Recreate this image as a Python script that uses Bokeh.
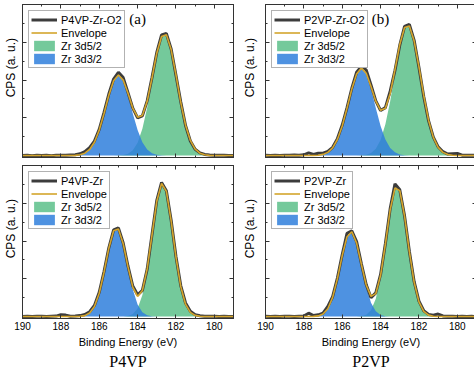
from bokeh.plotting import figure
from bokeh.models import (Range1d, LinearAxis, FixedTicker, Legend, LegendItem,
                          Label, Title, ColumnDataSource, CustomLabelingPolicy)
from bokeh.layouts import column, row
from bokeh.embed import file_html
from bokeh.resources import INLINE

# ---------------- data ----------------
energy = [190.0, 189.75, 189.5, 189.25, 189.0, 188.75, 188.5, 188.25, 188.0, 187.75,
          187.5, 187.25, 187.0, 186.75, 186.5, 186.25, 186.0, 185.75, 185.5, 185.25,
          185.0, 184.75, 184.5, 184.25, 184.0, 183.75, 183.5, 183.25, 183.0, 182.75,
          182.5, 182.25, 182.0, 181.75, 181.5, 181.25, 181.0, 180.75, 180.5, 180.25,
          180.0, 179.75, 179.5, 179.25, 179.0]

x_major_ticks = [180, 182, 184, 186, 188, 190]
x_minor_ticks = [179, 181, 183, 185, 187, 189]
y_major_ticks = [39, 78, 117]
y_minor_ticks = [19.5, 58.5, 97.5, 136.5]

# (a) P4VP-Zr-O2
a_data = [0, 0.3, -0.2, 0.2, 0, 0.3, -0.1, 0.2, 0.4, 0.3,
          0.6, 0.9, 1.8, 4.0, 8.2, 15.0, 27.0, 44.5, 63.5, 79.0,
          86.0, 80.5, 65.0, 49.0, 39.0, 41.0, 56.5, 80.5, 106.5, 124.5,
          126.0, 110.0, 83.0, 55.5, 31.0, 15.0, 6.5, 2.8, 1.2, 0.5,
          0.4, 0.2, 0.3, 0, 0.1]
a_env = [0, 0, 0, 0, 0, 0, 0, 0, 0, 0,
         0.1, 0.2, 0.8, 2.5, 6.3, 13.8, 26.3, 43.5, 62.3, 77.3,
         83.2, 77.9, 64.3, 49.0, 39.6, 41.4, 56.0, 80.1, 105.7, 123.0,
         124.7, 109.5, 83.4, 55.0, 31.4, 15.6, 6.7, 2.5, 0.8, 0.2,
         0.1, 0, 0, 0, 0]
a_d52 = [0, 0, 0, 0, 0, 0, 0, 0, 0, 0,
         0, 0, 0, 0, 0, 0, 0, 0, 0, 0,
         0.2, 0.6, 2.0, 5.5, 13.3, 27.6, 49.7, 77.6, 104.9, 122.8,
         124.6, 109.5, 83.4, 55.0, 31.4, 15.6, 6.7, 2.5, 0.8, 0.2,
         0.1, 0, 0, 0, 0]
a_d32 = [0, 0, 0, 0, 0, 0, 0, 0, 0, 0,
         0.1, 0.2, 0.8, 2.5, 6.3, 13.8, 26.3, 43.5, 62.3, 77.3,
         83.0, 77.3, 62.3, 43.5, 26.3, 13.8, 6.3, 2.5, 0.8, 0.2,
         0.1, 0, 0, 0, 0, 0, 0, 0, 0, 0,
         0, 0, 0, 0, 0]

# (b) P2VP-Zr-O2
b_data = [0.2, 0, 0.3, 0.1, 0.4, 0.2, 0.5, 0.3, 0.8, 2.8,
          1.2, 2.4, 2.5, 4.2, 8.5, 17.5, 31.5, 49.5, 69.5, 86.0,
          92.0, 88.5, 73.0, 56.5, 46.5, 49.5, 66.5, 88.0, 114.0, 133.5,
          135.5, 119.0, 91.0, 61.0, 36.0, 19.0, 9.0, 4.0, 1.5, 2.0,
          2.2, 0.4, 0.2, 0.3, 0.1]
b_env = [0, 0, 0, 0, 0, 0, 0, 0, 0, 0,
         0.1, 0.4, 1.2, 3.3, 7.9, 16.6, 30.5, 49.0, 68.7, 84.2,
         90.3, 85.0, 71.4, 56.1, 46.7, 48.9, 64.1, 88.8, 114.7, 132.2,
         133.7, 118.2, 91.5, 61.8, 36.5, 18.8, 8.5, 3.3, 1.1, 0.4,
         0.1, 0, 0, 0, 0]
b_d52 = [0, 0, 0, 0, 0, 0, 0, 0, 0, 0,
         0, 0, 0, 0, 0, 0, 0, 0, 0, 0.1,
         0.3, 0.9, 2.7, 7.1, 16.2, 32.3, 56.2, 85.5, 113.5, 131.8,
         133.6, 118.2, 91.5, 61.8, 36.5, 18.8, 8.5, 3.3, 1.1, 0.4,
         0.1, 0, 0, 0, 0]
b_d32 = [0, 0, 0, 0, 0, 0, 0, 0, 0, 0,
         0.1, 0.4, 1.2, 3.3, 7.9, 16.6, 30.5, 49.0, 68.7, 84.1,
         90.0, 84.1, 68.7, 49.0, 30.5, 16.6, 7.9, 3.3, 1.2, 0.4,
         0.1, 0, 0, 0, 0, 0, 0, 0, 0, 0,
         0, 0, 0, 0, 0]

# P4VP-Zr
c_data = [0.1, 0.3, 0, 0.2, 0.4, 0.1, 0.3, 0.5, 1.8, 1.5,
          0.4, 0.6, 1.0, 2.2, 5.0, 11.5, 25.0, 46.5, 71.0, 89.5,
          91.5, 76.0, 52.0, 31.5, 22.5, 27.0, 49.0, 84.5, 120.0, 138.5,
          130.0, 99.5, 62.0, 32.0, 14.0, 5.5, 2.0, 0.8, 0.4, 0.2,
          0.3, 0.1, 0.2, 0, 0.1]
c_env = [0, 0, 0, 0, 0, 0, 0, 0, 0, 0,
         0, 0, 0.2, 1.0, 3.6, 10.3, 24.1, 45.8, 70.6, 88.6,
         90.5, 75.2, 51.3, 30.5, 20.8, 26.8, 49.2, 84.0, 119.0, 137.4,
         129.2, 98.8, 61.4, 31.1, 12.8, 4.3, 1.2, 0.3, 0, 0,
         0, 0, 0, 0, 0]
c_d52 = [0, 0, 0, 0, 0, 0, 0, 0, 0, 0,
         0, 0, 0, 0, 0, 0, 0, 0, 0, 0,
         0, 0.1, 0.6, 2.6, 8.4, 22.3, 47.9, 83.7, 118.9, 137.4,
         129.2, 98.8, 61.4, 31.1, 12.8, 4.3, 1.2, 0.3, 0, 0,
         0, 0, 0, 0, 0]
c_d32 = [0, 0, 0, 0, 0, 0, 0, 0, 0, 0,
         0, 0, 0.2, 1.0, 3.6, 10.3, 24.1, 45.8, 70.6, 88.6,
         90.5, 75.1, 50.7, 27.9, 12.4, 4.5, 1.3, 0.3, 0.1, 0,
         0, 0, 0, 0, 0, 0, 0, 0, 0, 0,
         0, 0, 0, 0, 0]

# P2VP-Zr
d_data = [0.2, 0.1, 0.3, 0, 0.2, 0.4, 0.1, 0.3, 0.5, 3.5,
          1.0, 1.8, 3.6, 10.5, 20.5, 40.0, 64.0, 86.0, 88.5, 77.5,
          54.5, 33.0, 19.5, 24.5, 43.5, 75.5, 111.5, 137.0, 131.0, 104.0,
          67.5, 36.0, 16.0, 6.0, 2.2, 1.5, 2.6, 0.6, 0.3, 0.2,
          0.1, 0.3, 0.1, 0.2, 0]
d_env = [0, 0, 0, 0, 0, 0, 0, 0, 0, 0,
         0.2, 0.7, 2.7, 8.1, 19.8, 39.2, 63.0, 82.4, 87.6, 75.9,
         53.9, 32.6, 20.8, 23.7, 42.6, 74.9, 110.4, 132.8, 130.1, 103.6,
         67.1, 35.4, 15.2, 5.3, 1.5, 0.4, 0.1, 0, 0, 0,
         0, 0, 0, 0, 0]
d_d52 = [0, 0, 0, 0, 0, 0, 0, 0, 0, 0,
         0, 0, 0, 0, 0, 0, 0, 0, 0, 0.1,
         0.5, 2.0, 6.6, 18.3, 40.9, 74.5, 110.3, 132.8, 130.1, 103.6,
         67.1, 35.4, 15.2, 5.3, 1.5, 0.4, 0.1, 0, 0, 0,
         0, 0, 0, 0, 0]
d_d32 = [0, 0, 0, 0, 0, 0, 0, 0, 0, 0,
         0.2, 0.7, 2.7, 8.1, 19.8, 39.2, 63.0, 82.4, 87.6, 75.8,
         53.4, 30.6, 14.2, 5.4, 1.7, 0.4, 0.1, 0, 0, 0,
         0, 0, 0, 0, 0, 0, 0, 0, 0, 0,
         0, 0, 0, 0, 0]

# ---------------- style ----------------
FW, FH = 211, 153
AX = "#333333"
GREEN = "#5cbf8a"
BLUE = "#2f7fdc"
DARK = "#3c3c3c"
GOLD = "#d4a52c"
SANS = "Liberation Sans"
SERIF = "Liberation Serif"
# leading no-break spaces lift the rotated y title above the panel centre
Y_TITLE = "\u00a0" * 8 + "CPS (a. u.)"

HIDE = """
for (const i of indices) { indices.unset(i) }
return indices
"""


def style_axis(ax, labels):
    ax.axis_line_color = AX
    ax.major_tick_line_color = AX
    ax.minor_tick_line_color = AX
    ax.major_tick_in = 4
    ax.major_tick_out = 0
    ax.minor_tick_in = 2
    ax.minor_tick_out = 0
    ax.major_label_text_font = SANS
    ax.axis_label_text_font = SANS
    ax.axis_label_text_font_style = "normal"
    ax.axis_label_text_color = "black"
    ax.major_label_text_color = "black"
    if labels:
        ax.major_label_text_font_size = "10px"
        ax.major_label_standoff = 3
    else:
        ax.major_label_text_font_size = "1px"
        ax.major_label_standoff = 0
        ax.major_label_policy = CustomLabelingPolicy(code=HIDE)


def panel(data, env, d52, d32, name, tag, col, bottom, bottom_title):
    p = figure(frame_width=FW, frame_height=FH,
               x_range=Range1d(190, 179), y_range=Range1d(-2, 156),
               output_backend="svg", toolbar_location=None,
               x_axis_location=None, y_axis_location=None,
               min_border_left=10 if col == 0 else 27,
               min_border_right=0 if col == 0 else 1,
               min_border_top=0 if bottom else 1,
               min_border_bottom=0)
    p.grid.visible = False
    p.outline_line_color = AX
    p.outline_line_width = 1
    p.background_fill_color = "white"
    p.border_fill_color = "white"

    src = ColumnDataSource(dict(e=energy, data=data, env=env, d52=d52, d32=d32))
    g = p.varea(x="e", y1=0, y2="d52", source=src, fill_color=GREEN, fill_alpha=0.85)
    b = p.varea(x="e", y1=0, y2="d32", source=src, fill_color=BLUE, fill_alpha=0.85)
    d = p.line(x="e", y="data", source=src, line_color=DARK, line_width=3)
    v = p.line(x="e", y="env", source=src, line_color=GOLD, line_width=1.6)

    xt = FixedTicker(ticks=x_major_ticks, minor_ticks=x_minor_ticks)
    yt = FixedTicker(ticks=y_major_ticks, minor_ticks=y_minor_ticks)

    left = LinearAxis(ticker=yt, axis_label=Y_TITLE)
    style_axis(left, False)
    left.axis_label_text_font_size = "12px"
    left.axis_label_standoff = 0 if col == 0 else 4
    p.add_layout(left, "left")

    right = LinearAxis(ticker=yt)
    style_axis(right, False)
    p.add_layout(right, "right")

    above = LinearAxis(ticker=xt)
    style_axis(above, False)
    p.add_layout(above, "above")

    below = LinearAxis(ticker=xt)
    style_axis(below, bottom)
    if bottom:
        below.axis_label = "Binding Energy (eV)"
        below.axis_label_text_font_size = "11px"
        below.axis_label_standoff = 3
    p.add_layout(below, "below")
    if bottom:
        t = Title(text=bottom_title, align="center", text_font=SERIF,
                  text_font_size="16px", text_font_style="normal",
                  text_color="black", standoff=0)
        p.add_layout(t, "below")

    leg = Legend(items=[LegendItem(label=name, renderers=[d]),
                        LegendItem(label="Envelope", renderers=[v]),
                        LegendItem(label="Zr 3d5/2", renderers=[g]),
                        LegendItem(label="Zr 3d3/2", renderers=[b])],
                 location="top_left", margin=6, padding=2, spacing=0,
                 glyph_width=26, glyph_height=13, label_height=13,
                 label_standoff=4, label_text_font=SANS,
                 label_text_font_size="11px", label_text_color="black",
                 border_line_color="#666666", border_line_width=1,
                 background_fill_color="white", background_fill_alpha=1)
    p.add_layout(leg)

    if tag:
        p.add_layout(Label(x=184.0, y=141, text=tag, text_align="center",
                           text_baseline="middle", text_font=SERIF,
                           text_font_size="15px", text_color="black"))
    return p


pa = panel(a_data, a_env, a_d52, a_d32, "P4VP-Zr-O2", "(a)", 0, False, None)
pb = panel(b_data, b_env, b_d52, b_d32, "P2VP-Zr-O2", "(b)", 1, False, None)
pc = panel(c_data, c_env, c_d52, c_d32, "P4VP-Zr", None, 0, True, "P4VP")
pd = panel(d_data, d_env, d_d52, d_d32, "P2VP-Zr", None, 1, True, "P2VP")

layout = column(row(pa, pb), row(pc, pd))

open("out.html", "w").write(file_html(layout, INLINE))
